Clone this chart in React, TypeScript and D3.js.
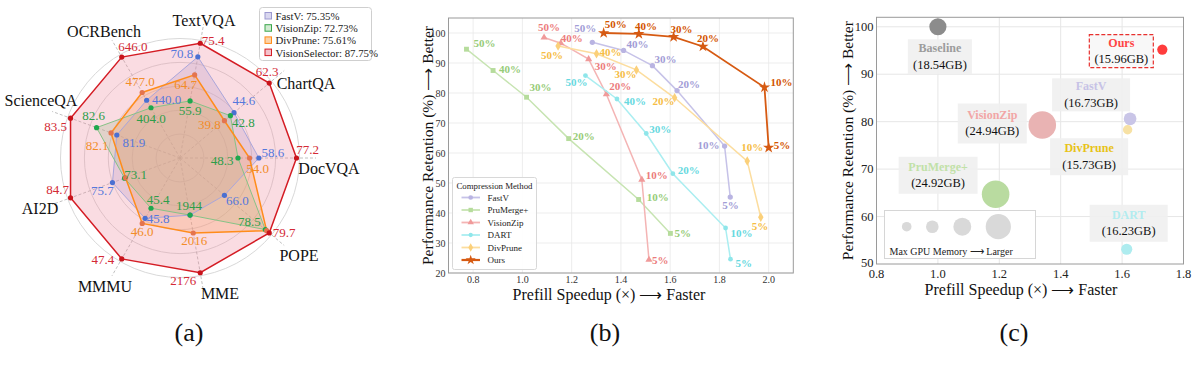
import React from "react";
import * as d3 from "d3";

const FONT = "'Liberation Serif', 'Times New Roman', serif";

// ---------------- (a) radar data ----------------
const radarAxes = ["TextVQA", "ChartQA", "DocVQA", "POPE", "MME", "MMMU", "AI2D", "ScienceQA", "OCRBench"];
const radarAxisLow = [55.9, 39.8, 48.3, 66.0, 1944, 45.4, 72.9, 81.6, 404.0];
const radarAxisHigh = [75.4, 62.3, 77.2, 79.7, 2176, 47.4, 84.7, 83.5, 646.0];
const fastvScores = [70.8, 44.6, 58.6, 66.0, 1944, 45.8, 75.7, 81.9, 440.0];
const visionzipScores = [55.9, 42.8, 48.3, 78.5, 1944, 45.4, 73.1, 82.6, 404.0];
const divpruneScores = [64.7, 39.8, 54.0, 78.9, 2016, 46.0, 72.9, 82.1, 477.0];
const selectorScores = [75.4, 62.3, 77.2, 79.7, 2176, 47.4, 84.7, 83.5, 646.0];
const radarLegend = ["FastV: 75.35%", "VisionZip: 72.73%", "DivPrune: 75.61%", "VisionSelector: 87.75%"];

// ---------------- (b) speedup / retention ----------------
const ratioLabels = ["50%", "40%", "30%", "20%", "10%", "5%"];
const methodsB = ["FastV", "PruMerge+", "VisionZip", "DART", "DivPrune", "Ours"];
const fastvSpeedup = [1.284, 1.411, 1.528, 1.628, 1.821, 1.844];
const fastvRetention = [96.9, 94.2, 89.1, 80.8, 62.3, 45.3];
const prumergeSpeedup = [0.773, 0.881, 1.017, 1.188, 1.472, 1.601];
const prumergeRetention = [94.6, 87.5, 78.6, 64.8, 44.5, 33.2];
const visionzipSpeedup = [1.088, 1.156, 1.269, 1.341, 1.485, 1.514];
const visionzipRetention = [98.5, 96.6, 91.3, 79.6, 51.1, 24.4];
const dartSpeedup = [1.256, 1.384, 1.503, 1.611, 1.825, 1.845];
const dartRetention = [85.8, 78.0, 66.5, 53.1, 35.0, 24.6];
const divpruneSpeedup = [1.145, 1.301, 1.463, 1.618, 1.913, 1.968];
const divpruneRetention = [95.7, 93.1, 87.7, 78.4, 57.3, 38.6];
const oursSpeedup = [1.33, 1.473, 1.614, 1.733, 1.983, 2.0];
const oursRetention = [100, 99.7, 98.7, 95.5, 81.9, 61.8];
const xTicksB = [0.8, 1.0, 1.2, 1.4, 1.6, 1.8, 2.0];
const yTicksB = [20, 30, 40, 50, 60, 70, 80, 90, 100];

// ---------------- (c) bubble chart ----------------
const methodsC = ["Baseline", "Ours", "FastV", "DivPrune", "VisionZip", "PruMerge+", "DART"];
const speedupC = [1.0, 1.731, 1.626, 1.618, 1.34, 1.188, 1.615];
const retentionC = [100, 95.2, 80.6, 78.3, 79.3, 64.7, 53.1];
const memoryC = [18.54, 15.96, 16.73, 15.73, 24.94, 24.92, 16.23];
const xTicksC = [0.8, 1.0, 1.2, 1.4, 1.6, 1.8];
const yTicksC = [50, 60, 70, 80, 90, 100];
const legendMemC = [15.8, 16.7, 18.9, 23.2];

// ---------------- layout / style ----------------
const RC = { x: 180, y: 158 };
const R_IN = 58;
const R_OUT = 116.5;
const R_GRID = 119.5;
const PANEL_LABEL_Y = 341;

const radarStyles = [
  { line: "#aaa6da", fill: "#a7a4dc", dot: "#4a70d2", label: "#5678dc", lw: 1, offs: [[-16, -3], [10, -12], [14, -6], [13, 5], null, [13, 0], [-10, 8], [17, 7], [20, -1]] },
  { line: "#86c286", fill: "#8fd18f", dot: "#1fa84d", label: "#2e9e4a", lw: 1, offs: [[0, 10], [13, 7], [-16, 2], [-16, -8], [-1, -10], [7, -9], [11, -4], [-3, -12], [0, 11]] },
  { line: "#ff8c1a", fill: "#ffa54a", dot: "#e4744e", label: "#f28c28", lw: 1.5, offs: [[-9, 10], [-15, 4], [8, 10], null, [1, 8], [0, 8], null, [-14, 13], [-2, -11]] },
  { line: "#d41c24", fill: "#ef8aa0", dot: "#c8141c", label: "#d42a36", lw: 1.5, offs: [[13, -3], [-2, -12], [11, -9], [15, 0], [-17, 8], [-19, 1], [-13, -8], [-15, 8], [11, -11]] },
];
const radarLegendSwatch = [
  { fill: "#d9d7ef", stroke: "#9c99d0" },
  { fill: "#d2ebd2", stroke: "#3aa64a" },
  { fill: "#fdd3a8", stroke: "#ff8c1a" },
  { fill: "#f4c3cc", stroke: "#d41c24" },
];
const axisLabelPos = [[24, -138], [126, -75], [149, 10], [119, 97], [40, 135], [-75, 128], [-140, 50], [-139, -58], [-76, -127]];

const bStyles = [
  { line: "#c6c2e8", mark: "#b9b4e2", label: "#a29dd6", sym: d3.symbolCircle, size: 22, lw: 1.5,
    offs: [[-18, -14], [3, -6], [2, -7], [1, -7], [-27, -1], [-8, 8]] },
  { line: "#c7e4b2", mark: "#b6dc9c", label: "#97cc78", sym: d3.symbolSquare, size: 24, lw: 1.5,
    offs: [[7, -6], [6, -2], [3, -10], [4, -3], [8, -3], [4, 0]] },
  { line: "#f4b4b4", mark: "#f09a9a", label: "#ec7c7c", sym: d3.symbolTriangle, size: 22, lw: 1.5,
    offs: [[-6, -11], [0, -5], [6, 7], [3, -8], [4, -5], [3, 0]] },
  { line: "#aaeef1", mark: "#8fe6ea", label: "#67d9e0", sym: d3.symbolCircle, size: 18, lw: 1.5,
    offs: [[-20, 6], [7, 2], [3, -5], [5, -4], [5, 5], [5, 4]] },
  { line: "#fcdd9e", mark: "#fbd07a", label: "#f6bd45", sym: d3.symbolDiamond, size: 26, lw: 1.5,
    offs: [[-17, 9], [3, -2], [-22, 4], [-22, 3], [-6, -14], [-9, 9]] },
  { line: "#d65a12", mark: "#d65a12", label: "#d35400", sym: d3.symbolStar, size: 40, lw: 1.8,
    offs: [[1, -9], [-4, -8], [-3, -8], [-6, -9], [6, -5], [5, -3]] },
];

const cStyles = [
  { circ: "#8c8c8c", name: "#9c9c9c", box: [2, 30, 64, 35] },
  { circ: "#ff3d3d", name: "#ff4545", box: [-41, 1.5, 64, 33] },
  { circ: "#c9c5e7", name: "#c6c2e6", box: [-39, -24, 78, 33] },
  { circ: "#f7e1a4", name: "#e8c316", box: [-38.5, 27, 78, 37] },
  { circ: "#e9b3b3", name: "#f2a6a6", box: [-50, -1.5, 69, 40] },
  { circ: "#b9dba0", name: "#c1e1a8", box: [-57.5, -19, 79, 37] },
  { circ: "#aeecef", name: "#b2ecef", box: [2, -26, 78, 37] },
];

function Radar() {
  const ang = (i: number) => ((80 - i * 40) * Math.PI) / 180;
  const scales = radarAxes.map((_, i) =>
    d3.scaleLinear().domain([radarAxisLow[i], radarAxisHigh[i]]).range([R_IN, R_OUT])
  );
  const pt = (i: number, r: number): [number, number] => [RC.x + r * Math.cos(ang(i)), RC.y - r * Math.sin(ang(i))];
  const series = [fastvScores, visionzipScores, divpruneScores, selectorScores];
  const line = d3.line<[number, number]>().curve(d3.curveLinearClosed);
  const fmt = (i: number, v: number) => (radarAxes[i] === "MME" ? d3.format("d")(v) : d3.format(".1f")(v));
  return (
    <g>
      {[0.2, 0.4, 0.6, 0.8, 1.0].map((f) => (
        <circle key={f} cx={RC.x} cy={RC.y} r={R_GRID * f} fill="none" stroke="#d4d4d4" strokeWidth={0.9} />
      ))}
      {radarAxes.map((a, i) => {
        const [x2, y2] = pt(i, 136);
        return <line key={a} x1={RC.x} y1={RC.y} x2={x2} y2={y2} stroke="#b0b0b0" strokeWidth={0.8} strokeDasharray="3,2" />;
      })}
      {series.map((s, k) => (
        <path key={"f" + k} d={line(s.map((v, i) => pt(i, scales[i](v))))!} fill={radarStyles[k].fill} fillOpacity={0.3} stroke="none" />
      ))}
      {series.map((s, k) => (
        <path key={"l" + k} d={line(s.map((v, i) => pt(i, scales[i](v))))!} fill="none" stroke={radarStyles[k].line} strokeWidth={radarStyles[k].lw} />
      ))}
      {series.map((s, k) =>
        s.map((v, i) => {
          const [x, y] = pt(i, scales[i](v));
          return <circle key={"d" + k + i} cx={x} cy={y} r={2.6} fill={radarStyles[k].dot} />;
        })
      )}
      {series.map((s, k) =>
        s.map((v, i) => {
          const o = radarStyles[k].offs[i];
          if (!o) return null;
          const [x, y] = pt(i, scales[i](v));
          return (
            <text key={"t" + k + i} x={x + o[0]} y={y + o[1]} textAnchor="middle" dominantBaseline="central" fontSize={13} fill={radarStyles[k].label} fontFamily={FONT}>
              {fmt(i, v)}
            </text>
          );
        })
      )}
      {radarAxes.map((a, i) => (
        <text key={"ax" + a} x={RC.x + axisLabelPos[i][0]} y={RC.y + axisLabelPos[i][1]} textAnchor="middle" dominantBaseline="central" fontSize={16} fill="#111" fontFamily={FONT}>
          {a}
        </text>
      ))}
      <g>
        <rect x={259.5} y={7.5} width={112} height={53} rx={3} fill="#fff" fillOpacity={0.9} stroke="#cfcfcf" strokeWidth={1} />
        {radarLegend.map((t, i) => (
          <g key={t}>
            <rect x={265} y={12.5 + i * 12.2} width={6.5} height={6.5} fill={radarLegendSwatch[i].fill} stroke={radarLegendSwatch[i].stroke} strokeWidth={1} />
            <text x={275.5} y={16 + i * 12.2} dominantBaseline="central" fontSize={10.8} fill="#222" fontFamily={FONT}>{t}</text>
          </g>
        ))}
      </g>
      <text x={189} y={PANEL_LABEL_Y} textAnchor="middle" fontSize={26} fill="#111" fontFamily={FONT}>(a)</text>
    </g>
  );
}

function PanelB() {
  const L = 448.5, R = 793.3, T = 18, B = 273;
  const x = d3.scaleLinear().domain([0.7, 2.1]).range([L, R]);
  const y = d3.scaleLinear().domain([20, 105]).range([B, T]);
  const xs = [fastvSpeedup, prumergeSpeedup, visionzipSpeedup, dartSpeedup, divpruneSpeedup, oursSpeedup];
  const ys = [fastvRetention, prumergeRetention, visionzipRetention, dartRetention, divpruneRetention, oursRetention];
  return (
    <g>
      <rect x={L} y={T} width={R - L} height={B - T} fill="#fff" />
      {xTicksB.map((t) => <line key={"gx" + t} x1={x(t)} x2={x(t)} y1={T} y2={B} stroke="#e8e8e8" strokeWidth={0.8} />)}
      {yTicksB.map((t) => <line key={"gy" + t} x1={L} x2={R} y1={y(t)} y2={y(t)} stroke="#e8e8e8" strokeWidth={0.8} />)}
      <rect x={L} y={T} width={R - L} height={B - T} fill="none" stroke="#9a9a9a" strokeWidth={1} />
      {xTicksB.map((t) => (
        <text key={"tx" + t} x={x(t)} y={B + 6.5} textAnchor="middle" dominantBaseline="central" fontSize={10} fill="#333" fontFamily={FONT}>{d3.format(".1f")(t)}</text>
      ))}
      {yTicksB.map((t) => (
        <text key={"ty" + t} x={L - 3} y={y(t)} textAnchor="end" dominantBaseline="central" fontSize={10} fill="#333" fontFamily={FONT}>{t}</text>
      ))}
      {methodsB.map((m, k) => {
        const pts = xs[k].map((v, i) => [x(v), y(ys[k][i])] as [number, number]);
        const p = d3.line()(pts)!;
        const st = bStyles[k];
        const sym = d3.symbol().type(st.sym).size(st.size)()!;
        return (
          <g key={m}>
            <path d={p} fill="none" stroke={st.line} strokeWidth={st.lw} />
            {pts.map((q, i) => <path key={i} d={sym} transform={`translate(${q[0]},${q[1]})`} fill={st.mark} />)}
            {pts.map((q, i) => (
              <text key={"l" + i} x={q[0] + st.offs[i][0]} y={q[1] + st.offs[i][1]} dominantBaseline="central" fontSize={11} fontWeight="bold" fill={st.label} fontFamily={FONT}>
                {ratioLabels[i]}
              </text>
            ))}
          </g>
        );
      })}
      <g>
        <rect x={452.5} y={177.5} width={84} height={92} rx={2} fill="#fff" fillOpacity={0.9} stroke="#d8d8d8" strokeWidth={1} />
        <text x={494.5} y={185.5} textAnchor="middle" dominantBaseline="central" fontSize={8.8} fill="#222" fontFamily={FONT}>Compression Method</text>
        {methodsB.map((m, k) => {
          const yy = 197.5 + k * 12.5;
          const st = bStyles[k];
          const sym = d3.symbol().type(st.sym).size(st.size * 0.8)()!;
          return (
            <g key={"lg" + m}>
              <line x1={461.5} x2={480} y1={yy} y2={yy} stroke={st.line} strokeWidth={k === 5 ? 2.2 : 1.8} />
              <path d={sym} transform={`translate(${470.7},${yy})`} fill={st.mark} />
              <text x={487.5} y={yy} dominantBaseline="central" fontSize={9} fill="#222" fontFamily={FONT}>{m}</text>
            </g>
          );
        })}
      </g>
      <text transform={`translate(427,${(T + B) / 2}) rotate(-90)`} textAnchor="middle" dominantBaseline="central" fontSize={15.5} fill="#111" fontFamily={FONT}>
        Performance Retention (%) ⟶ Better
      </text>
      <text x={609} y={294} textAnchor="middle" dominantBaseline="central" fontSize={16} fill="#111" fontFamily={FONT}>
        Prefill Speedup (×) ⟶ Faster
      </text>
      <text x={605} y={PANEL_LABEL_Y} textAnchor="middle" fontSize={26} fill="#111" fontFamily={FONT}>(b)</text>
    </g>
  );
}

function PanelC() {
  const L = 876.5, R = 1183.5, T = 17.3, B = 264;
  const x = d3.scaleLinear().domain([0.8, 1.8]).range([L, R]);
  const y = d3.scaleLinear().domain([50, 102]).range([B, T]);
  const rScale = d3.scaleSqrt().domain([0, 10.4]).range([0, 13.8]);
  const memFloor = 14.53;
  return (
    <g>
      <rect x={L} y={T} width={R - L} height={B - T} fill="#fff" />
      {xTicksC.slice(1, -1).map((t) => <line key={"gx" + t} x1={x(t)} x2={x(t)} y1={T} y2={B} stroke="#e6e6e6" strokeWidth={1} />)}
      {yTicksC.slice(1).map((t) => <line key={"gy" + t} x1={L} x2={R} y1={y(t)} y2={y(t)} stroke="#e6e6e6" strokeWidth={1} />)}
      <rect x={L} y={T} width={R - L} height={B - T} fill="none" stroke="#9a9a9a" strokeWidth={1} />
      {xTicksC.map((t) => (
        <text key={"tx" + t} x={x(t)} y={B + 10} textAnchor="middle" dominantBaseline="central" fontSize={12.5} fill="#222" fontFamily={FONT}>{d3.format(".1f")(t)}</text>
      ))}
      {yTicksC.map((t) => (
        <text key={"ty" + t} x={L - 3} y={y(t) - (t === 50 ? 1.5 : 0)} textAnchor="end" dominantBaseline="central" fontSize={12.5} fill="#222" fontFamily={FONT}>{t}</text>
      ))}
      <rect x={884.5} y={210.5} width={151} height={48} fill="#fff" stroke="#d6d6d6" strokeWidth={1} />
      {legendMemC.map((m, i) => (
        <circle key={"lm" + i} cx={[906.7, 932.3, 962.3, 998.3][i]} cy={226.7} r={rScale(m - memFloor)} fill="#d9d9d9" />
      ))}
      <text x={889.5} y={251} dominantBaseline="central" fontSize={10} fill="#222" fontFamily={FONT}>Max GPU Memory ⟶ Larger</text>
      {methodsC.map((m, k) => {
        const cx = x(speedupC[k]);
        const cy = y(retentionC[k]);
        const st = cStyles[k];
        const [bx, by, bw, bh] = st.box;
        const lx = cx + bx, ly = cy + by;
        return (
          <g key={m}>
            <rect x={lx - bw / 2} y={ly - bh / 2} width={bw} height={bh} fill={k === 1 ? "#f7f7f7" : "#efefef"} fillOpacity={0.9}
              stroke={k === 1 ? "#e8302e" : "none"} strokeDasharray={k === 1 ? "4,2" : undefined} strokeWidth={1.2} />
            <text x={lx} y={ly - 8.5} textAnchor="middle" dominantBaseline="central" fontSize={12} fontWeight="bold" fill={st.name} fontFamily={FONT}>{m}</text>
            <text x={lx} y={ly + 8} textAnchor="middle" dominantBaseline="central" fontSize={12.5} fill="#111" fontFamily={FONT}>({d3.format(".2f")(memoryC[k])}GB)</text>
          </g>
        );
      })}
      {methodsC.map((m, k) => (
        <circle key={"c" + m} cx={x(speedupC[k])} cy={y(retentionC[k])} r={rScale(memoryC[k] - memFloor)} fill={cStyles[k].circ} />
      ))}
      <text transform={`translate(847,${(T + B) / 2}) rotate(-90)`} textAnchor="middle" dominantBaseline="central" fontSize={15.5} fill="#111" fontFamily={FONT}>
        Performance Retention (%) ⟶ Better
      </text>
      <text x={1021} y={289} textAnchor="middle" dominantBaseline="central" fontSize={16} fill="#111" fontFamily={FONT}>
        Prefill Speedup (×) ⟶ Faster
      </text>
      <text x={1014} y={PANEL_LABEL_Y} textAnchor="middle" fontSize={26} fill="#111" fontFamily={FONT}>(c)</text>
    </g>
  );
}

export default function App() {
  return (
    <div style={{ position: "absolute", left: 0, top: 0 }}>
      <svg width={1199} height={377} style={{ display: "block", background: "#fff" }}>
        <Radar />
        <PanelB />
        <PanelC />
      </svg>
    </div>
  );
}
